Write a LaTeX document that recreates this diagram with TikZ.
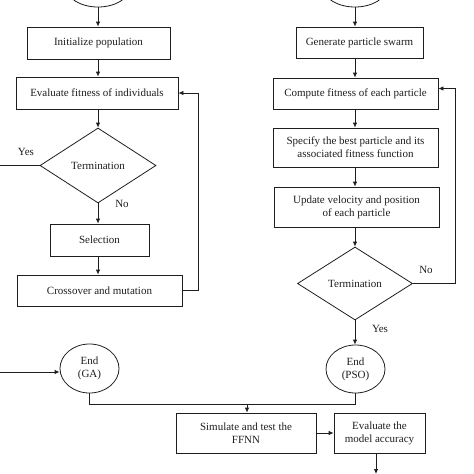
\documentclass[tikz,border=0pt]{standalone}
\usepackage{fontspec}
\setmainfont{Liberation Serif}
\usetikzlibrary{shapes.geometric,arrows.meta}
\definecolor{ink}{RGB}{30,30,30}
\tikzset{
  txt/.style={text=ink, font=\fontsize{11}{12.8}\selectfont},
  box/.style={txt, draw=ink, line width=0.8pt, rectangle, inner sep=0pt, align=center},
  dia/.style={txt, draw=ink, line width=0.8pt, diamond, inner sep=0pt},
  oval/.style={txt, draw=ink, line width=0.8pt, ellipse, inner sep=0pt, align=center},
  lbl/.style={txt, inner sep=0pt},
  arr/.style={draw=ink, line width=0.8pt, -{Latex[length=5pt,width=4.5pt]}},
  ln/.style={draw=ink, line width=0.8pt}
}
\begin{document}
\begin{tikzpicture}[x=1pt,y=-1pt]
\useasboundingbox (0,0) rectangle (474,474);
\clip (0,0) rectangle (474,474);
% column axes
\coordinate (cGA) at (98,0);
\coordinate (cPSO) at (355,0);
% GA column
\node[oval, minimum width=64, minimum height=40] (startGA) at (98,-13) {};
\node[box, minimum width=143, minimum height=32] (init) at (98.5,43) {Initialize population};
\node[box, minimum width=162, minimum height=32] (evalF) at (97,93) {Evaluate fitness of individuals};
\node[dia, minimum width=116, minimum height=75] (term1) at (98,165.5) {Termination};
\node[box, minimum width=99, minimum height=32] (sel) at (99.5,240) {Selection};
\node[box, minimum width=165, minimum height=31] (cross) at (99.5,290.5) {Crossover and mutation};
\node[oval, minimum width=59, minimum height=49] (endGA) at (89.5,368.5) {End\\(GA)};
% PSO column
\node[oval, minimum width=64, minimum height=40] (startPSO) at (355,-13) {};
\node[box, minimum width=127, minimum height=31] (gen) at (359.5,42.5) {Generate particle swarm};
\node[box, minimum width=165, minimum height=31] (comp) at (355.5,93.5) {Compute fitness of each particle};
\node[box, minimum width=165, minimum height=39] (spec) at (355.5,147.5) {Specify the best particle and its\\associated fitness function};
\node[box, minimum width=165, minimum height=40] (upd) at (356.5,207) {Update velocity and position\\of each particle};
\node[dia, minimum width=115, minimum height=73] (term2) at (355,283.5) {Termination};
\node[oval, minimum width=59, minimum height=48] (endPSO) at (355.5,369) {End\\(PSO)};
% bottom
\node[box, minimum width=140, minimum height=40] (sim) at (246,433) {Simulate and test the\\FFNN};
\node[box, minimum width=91, minimum height=40] (acc) at (379.5,433) {Evaluate the\\model accuracy};
% labels
\node[lbl] (yes1) at (26,152) {Yes};
\node[lbl] (no1) at (122,204) {No};
\node[lbl] (no2) at (426,270) {No};
\node[lbl] (yes2) at (380,329) {Yes};
% coordinates
\coordinate (yesOut) at (0,165.5);
\coordinate (gaIn) at (0,372);
\coordinate (fbGA) at (198,0);
\coordinate (fbPSO) at (455,0);
\coordinate (jn) at (247,404);
\coordinate (accOut) at (376,474);
% GA connectors
\draw[arr] (startGA.south) -- (init.north -| cGA);
\draw[arr] (init.south -| cGA) -- (evalF.north -| cGA);
\draw[arr] (evalF.south -| cGA) -- (term1.north);
\draw[arr] (term1.south) -- (sel.north -| cGA);
\draw[arr] (sel.south -| cGA) -- (cross.north -| cGA);
\draw[arr] (cross.east) -| (fbGA |- evalF.east) -- (evalF.east);
\draw[ln] (term1.west) -- (yesOut);
\draw[arr] (gaIn) -- (gaIn -| endGA.west);
% PSO connectors
\draw[arr] (startPSO.south) -- (gen.north -| cPSO);
\draw[arr] (gen.south -| cPSO) -- (comp.north -| cPSO);
\draw[arr] (comp.south -| cPSO) -- (spec.north -| cPSO);
\draw[arr] (spec.south -| cPSO) -- (upd.north -| cPSO);
\draw[arr] (upd.south -| cPSO) -- (term2.north);
\draw[ln] (term2.east) -- (term2.east -| fbPSO);
\draw[arr] (term2.east -| fbPSO) -- ([yshift=5pt]fbPSO |- comp.east) -- ([yshift=5pt]comp.east);
\draw[arr] (term2.south) -- (endPSO.north -| cPSO);
% bottom connectors
\draw[ln] (endGA.south) -- (endGA.south |- jn) -- (jn -| cPSO) -- (endPSO.south -| cPSO);
\draw[arr] (jn) -- (sim.north -| jn);
\draw[arr] (sim.east) -- (acc.west);
\draw[arr] (acc.south -| accOut) -- (accOut);
\end{tikzpicture}
\end{document}
